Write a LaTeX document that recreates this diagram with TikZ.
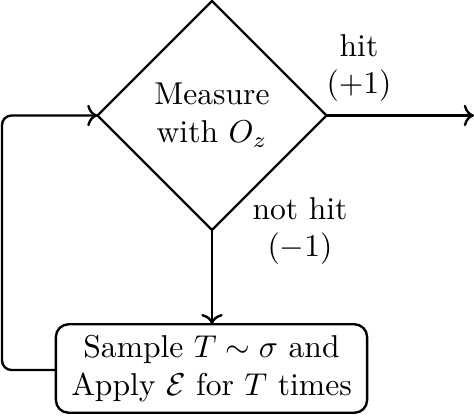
\documentclass[tikz,border=0pt]{standalone}
\usetikzlibrary{shapes.geometric,arrows.meta}
\begin{document}
\begin{tikzpicture}[x=0.3165pt,y=-0.3165pt,
  lw/.style={line width=0.75pt},
  decision/.style={diamond,draw,lw,minimum width=72.5pt,minimum height=72.5pt,inner sep=0pt,outer sep=0pt,align=center},
  proc/.style={rectangle,draw,lw,rounded corners=4pt,align=center,minimum width=98.5pt,minimum height=28pt,inner sep=2pt,outer sep=0pt},
  lbl/.style={align=center,inner sep=0pt},
  conn/.style={lw,->}]
\useasboundingbox (0,0) rectangle (474,415);
\node[decision] (meas) at (212,115.5) {Measure\\with $O_z$};
\node[proc] (samp) at (211.5,368.5) {Sample $T\sim\sigma$ and\\Apply $\mathcal{E}$ for $T$ times};
\coordinate (out) at (474,115.5);
\coordinate (bl) at (2,370);
\coordinate (tl) at (2,115.5);
\draw[conn] (meas.east) -- (out);
\draw[conn] (meas.south) -- (meas.south |- samp.north);
\draw[conn,rounded corners=3pt] (samp.west |- bl) -- (bl) -- (tl) -- (meas.west);
\node[lbl] (hit) at (359,68) {hit\\$(+1)$};
\node[lbl] (nothit) at (300,231) {not hit\\$(-1)$};
\end{tikzpicture}
\end{document}
